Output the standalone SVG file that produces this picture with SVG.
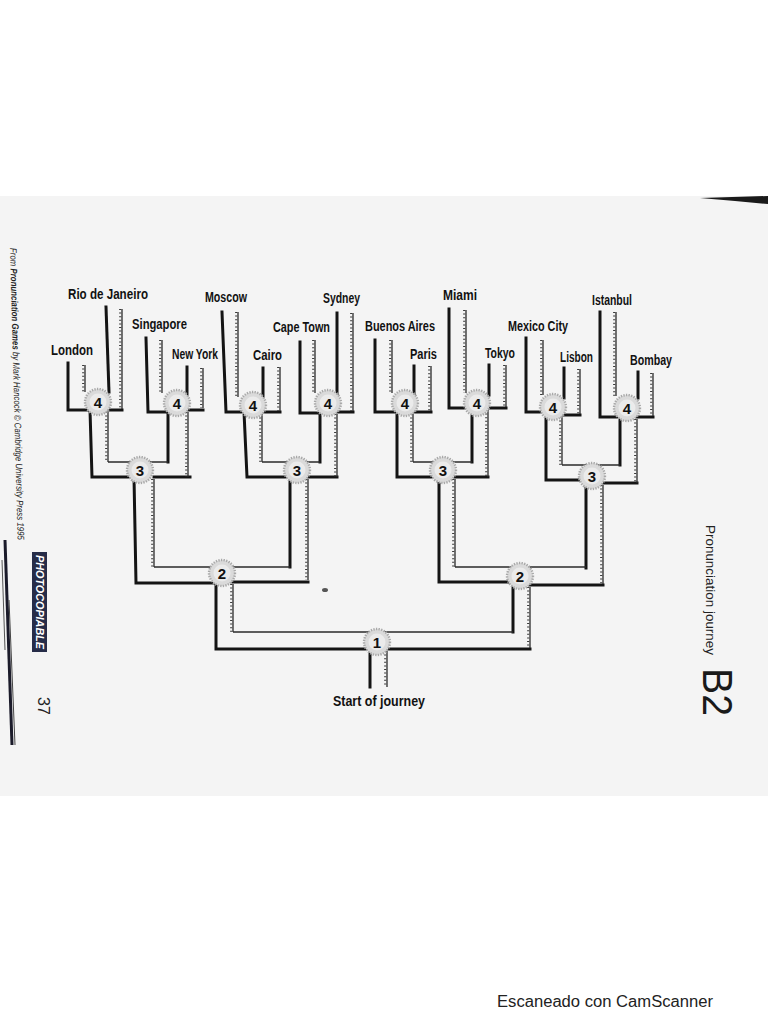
<svg xmlns="http://www.w3.org/2000/svg" xmlns:xlink="http://www.w3.org/1999/xlink" width="768" height="1024" viewBox="0 0 768 1024">
<style>
.k{fill:none;stroke:#141414;stroke-width:3;stroke-linecap:square;stroke-linejoin:miter}
.n{fill:none;stroke:#2a2a2a;stroke-width:1.3}
.hl{fill:none;stroke:#2a2a2a;stroke-width:1.3}
.ht{fill:none;stroke:#3a3a3a;stroke-width:2.2;stroke-dasharray:1 2.6}
.lbl{font-family:"Liberation Sans",Arial,sans-serif;font-weight:bold;font-size:14px;fill:#111}
.num{font-family:"Liberation Sans",Arial,sans-serif;font-weight:bold;font-size:15px;fill:#111;text-anchor:middle}
.disc{fill:#dadada;stroke:#a8a8a8;stroke-width:2.4;stroke-dasharray:1.3 1.3}
.inner{fill:#ebebeb}
</style>
<defs>
<g id="hpaths">
<path d="M85,365 V392"/>
<path d="M122,309 V409"/>
<path d="M108,412 V462"/>
<path d="M162,340 V393"/>
<path d="M203,368 V408"/>
<path d="M188,412 V477"/>
<path d="M154,479 V567"/>
<path d="M238,312 V397"/>
<path d="M280,367 V411"/>
<path d="M262,414 V462"/>
<path d="M315,340 V393"/>
<path d="M353,313 V411"/>
<path d="M337,414 V477"/>
<path d="M308,479 V580"/>
<path d="M233,584 V632"/>
<path d="M392,340 V393"/>
<path d="M431,366 V411"/>
<path d="M413,414 V462"/>
<path d="M466,310 V393"/>
<path d="M506,365 V407"/>
<path d="M488,410 V477"/>
<path d="M455,479 V567"/>
<path d="M543,340 V395"/>
<path d="M580,369 V414"/>
<path d="M562,417 V465"/>
<path d="M616,312 V396"/>
<path d="M653,373 V416"/>
<path d="M637,419 V483"/>
<path d="M603,485 V584"/>
<path d="M530,587 V648"/>
<path d="M387,651 V687"/>
</g>
<g id="dot">
<circle class="disc" r="13"/>
<circle class="inner" r="8.5"/>
</g>
</defs>

<rect x="0" y="0" width="768" height="1024" fill="#ffffff"/>
<rect x="0" y="196" width="768" height="600" fill="#f4f4f4"/>
<polygon points="700,198 768,196 768,204 735,201" fill="#1a1a1a"/>

<!-- binding edge -->
<g id="binding">
<path d="M5,540 L12,745" stroke="#1b1b2a" stroke-width="3" fill="none"/>
<path d="M9,600 L15,745" stroke="#444" stroke-width="1" fill="none"/>
<path d="M2,560 L5,650" stroke="#555" stroke-width="1" fill="none"/>
</g>

<!-- roads -->
<g id="connectors">
<path class="k" d="M68,363 V410 H90 L92,477 H134 L136,583 H216 V649 H370 V687"/>
<path class="k" d="M106,307 L109,392"/>
<path class="k" d="M122,410 H108"/>
<path class="k" d="M146,338 L148,412 H168 V462"/>
<path class="k" d="M187,367 V395"/>
<path class="k" d="M203,410 H188"/>
<path class="k" d="M154,477 H190"/>
<path class="k" d="M222,312 L226,412 H244 L247,477 H290 V567"/>
<path class="k" d="M263,368 V397"/>
<path class="k" d="M280,412 H262"/>
<path class="k" d="M300,342 V413 H320 V462"/>
<path class="k" d="M337,313 V394"/>
<path class="k" d="M353,412 H337"/>
<path class="k" d="M337,477 H308"/>
<path class="k" d="M308,582 H233"/>
<path class="k" d="M375,340 V412 H397 V477 H439 V582 H513 V632"/>
<path class="k" d="M414,366 V396"/>
<path class="k" d="M431,412 H413"/>
<path class="k" d="M449,309 V408 H472 V462"/>
<path class="k" d="M489,365 V395"/>
<path class="k" d="M506,408 H488"/>
<path class="k" d="M488,477 H455"/>
<path class="k" d="M526,338 V412 H546 V480 H586 V568"/>
<path class="k" d="M564,368 V398"/>
<path class="k" d="M580,415 H562"/>
<path class="k" d="M600,312 V417 H620 V465"/>
<path class="k" d="M638,372 V398"/>
<path class="k" d="M653,417 H637"/>
<path class="k" d="M637,483 H603"/>
<path class="k" d="M603,585 H530"/>
<path class="k" d="M530,649 H387"/>
<path class="n" d="M108,462 H168"/>
<path class="n" d="M262,462 H320"/>
<path class="n" d="M154,567 H290"/>
<path class="n" d="M233,632 H513"/>
<path class="n" d="M413,462 H472"/>
<path class="n" d="M562,465 H620"/>
<path class="n" d="M455,567 H586"/>
<use href="#hpaths" xlink:href="#hpaths" class="hl"/>
<use href="#hpaths" xlink:href="#hpaths" class="ht" transform="translate(-1.8,0)"/>
</g>

<!-- junction markers -->
<g id="j4a" transform="translate(98,402)"><use href="#dot" xlink:href="#dot"/><text class="num" y="5.5">4</text></g>
<g id="j4b" transform="translate(177,403)"><use href="#dot" xlink:href="#dot"/><text class="num" y="5.5">4</text></g>
<g id="j4c" transform="translate(253,405)"><use href="#dot" xlink:href="#dot"/><text class="num" y="5.5">4</text></g>
<g id="j4d" transform="translate(328,403)"><use href="#dot" xlink:href="#dot"/><text class="num" y="5.5">4</text></g>
<g id="j4e" transform="translate(405,403)"><use href="#dot" xlink:href="#dot"/><text class="num" y="5.5">4</text></g>
<g id="j4f" transform="translate(477,403)"><use href="#dot" xlink:href="#dot"/><text class="num" y="5.5">4</text></g>
<g id="j4g" transform="translate(553,407)"><use href="#dot" xlink:href="#dot"/><text class="num" y="5.5">4</text></g>
<g id="j4h" transform="translate(627,408)"><use href="#dot" xlink:href="#dot"/><text class="num" y="5.5">4</text></g>
<g id="j3a" transform="translate(140,470)"><use href="#dot" xlink:href="#dot"/><text class="num" y="5.5">3</text></g>
<g id="j3b" transform="translate(297,470)"><use href="#dot" xlink:href="#dot"/><text class="num" y="5.5">3</text></g>
<g id="j3c" transform="translate(443,470)"><use href="#dot" xlink:href="#dot"/><text class="num" y="5.5">3</text></g>
<g id="j3d" transform="translate(592,476)"><use href="#dot" xlink:href="#dot"/><text class="num" y="5.5">3</text></g>
<g id="j2a" transform="translate(222,573)"><use href="#dot" xlink:href="#dot"/><text class="num" y="5.5">2</text></g>
<g id="j2b" transform="translate(520,576)"><use href="#dot" xlink:href="#dot"/><text class="num" y="5.5">2</text></g>
<g id="j1" transform="translate(377,642)"><use href="#dot" xlink:href="#dot"/><text class="num" y="5.5">1</text></g>

<!-- city labels -->
<g id="rio"><text class="lbl" x="68" y="299" textLength="80" lengthAdjust="spacingAndGlyphs">Rio de Janeiro</text></g>
<g id="london"><text class="lbl" x="51" y="355" textLength="42" lengthAdjust="spacingAndGlyphs">London</text></g>
<g id="singapore"><text class="lbl" x="132" y="329" textLength="55" lengthAdjust="spacingAndGlyphs">Singapore</text></g>
<g id="newyork"><text class="lbl" x="172" y="359" textLength="46" lengthAdjust="spacingAndGlyphs">New York</text></g>
<g id="moscow"><text class="lbl" x="205" y="302" textLength="42" lengthAdjust="spacingAndGlyphs">Moscow</text></g>
<g id="cairo"><text class="lbl" x="253" y="360" textLength="29" lengthAdjust="spacingAndGlyphs">Cairo</text></g>
<g id="capetown"><text class="lbl" x="273" y="332" textLength="57" lengthAdjust="spacingAndGlyphs">Cape Town</text></g>
<g id="sydney"><text class="lbl" x="323" y="303" textLength="37" lengthAdjust="spacingAndGlyphs">Sydney</text></g>
<g id="buenosaires"><text class="lbl" x="365" y="331" textLength="70" lengthAdjust="spacingAndGlyphs">Buenos Aires</text></g>
<g id="paris"><text class="lbl" x="410" y="359" textLength="27" lengthAdjust="spacingAndGlyphs">Paris</text></g>
<g id="miami"><text class="lbl" x="443" y="300" textLength="34" lengthAdjust="spacingAndGlyphs">Miami</text></g>
<g id="tokyo"><text class="lbl" x="485" y="358" textLength="30" lengthAdjust="spacingAndGlyphs">Tokyo</text></g>
<g id="mexicocity"><text class="lbl" x="508" y="331" textLength="60" lengthAdjust="spacingAndGlyphs">Mexico City</text></g>
<g id="lisbon"><text class="lbl" x="560" y="362" textLength="33" lengthAdjust="spacingAndGlyphs">Lisbon</text></g>
<g id="istanbul"><text class="lbl" x="592" y="305" textLength="40" lengthAdjust="spacingAndGlyphs">Istanbul</text></g>
<g id="bombay"><text class="lbl" x="630" y="365" textLength="42" lengthAdjust="spacingAndGlyphs">Bombay</text></g>
<g id="start"><text class="lbl" x="333" y="706" textLength="92" lengthAdjust="spacingAndGlyphs">Start of journey</text></g>

<!-- smudge -->
<ellipse cx="325" cy="590" rx="3" ry="2" fill="#555"/>

<!-- margin texts -->
<g id="credit" transform="translate(10,248) rotate(88.5)">
<text font-family="Liberation Sans, Arial, sans-serif" font-size="9.5" font-style="italic" fill="#222" textLength="292" lengthAdjust="spacingAndGlyphs">From <tspan font-weight="bold">Pronunciation Games</tspan> by Mark Hancock © Cambridge University Press 1995</text>
</g>
<g id="photocopiable" transform="translate(32,552)">
<rect x="0" y="0" width="15" height="100" fill="#262c48"/>
<text transform="translate(4,3) rotate(90)" font-family="Liberation Sans, Arial, sans-serif" font-size="10" font-weight="bold" font-style="italic" fill="#ffffff" textLength="94" lengthAdjust="spacingAndGlyphs">PHOTOCOPIABLE</text>
</g>
<g id="pagenum"><text transform="translate(38,697) rotate(90)" font-family="Liberation Sans, Arial, sans-serif" font-size="16" fill="#222">37</text></g>
<g id="title"><text transform="translate(706,525) rotate(90)" font-family="Liberation Sans, Arial, sans-serif" font-size="13" fill="#222" textLength="130" lengthAdjust="spacingAndGlyphs">Pronunciation journey</text></g>
<g id="unit"><text transform="translate(703,668) rotate(90)" font-family="Liberation Sans, Arial, sans-serif" font-size="42" fill="#1a1a1a" textLength="48" lengthAdjust="spacingAndGlyphs">B2</text></g>

<g id="watermark"><text x="497" y="1007" font-family="Liberation Sans, Arial, sans-serif" font-size="16" fill="#222" textLength="216" lengthAdjust="spacingAndGlyphs">Escaneado con CamScanner</text></g>
</svg>
